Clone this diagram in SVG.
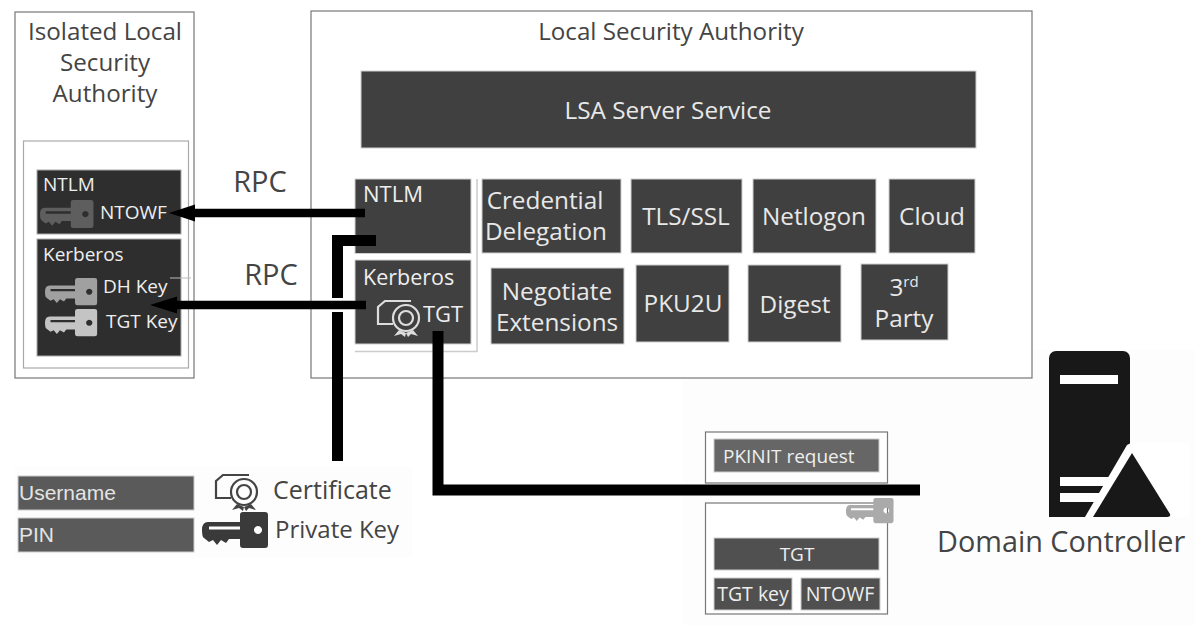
<svg xmlns="http://www.w3.org/2000/svg" xmlns:xlink="http://www.w3.org/1999/xlink" width="1200" height="630" viewBox="0 0 1200 630">
<style>
text{font-family:"Open Sans","Noto Sans","Liberation Sans",sans-serif}
.title{font-size:24.200px;fill:#444;text-anchor:middle}
.lab{font-size:24.300px;fill:#e8e8e8;text-anchor:middle}
.small{font-size:19px;fill:#eee}
.rpc{font-size:29px;fill:#444;text-anchor:middle}
.box{fill:#404040;stroke:#d0d0d0;stroke-width:1}
.dark{fill:#2e2e2e;stroke:#aaa;stroke-width:1}
.frame{fill:#fff;stroke:#777;stroke-width:1.2}
.thick{fill:none;stroke:#000;stroke-width:11}
.rpcline{fill:none;stroke:#000;stroke-width:8.5}
.head{fill:#000}
.cap{font-size:19px;fill:#eee;text-anchor:middle}
.sans{font-family:"Liberation Sans",sans-serif;font-size:21px;fill:#e4e4e4}
</style>
<defs>
<path id="key" fill-rule="evenodd" d="M38 3a3 3 0 0 1 3-3h22a3 3 0 0 1 3 3v30a3 3 0 0 1-3 3h-22a3 3 0 0 1-3-3v-6H27l-3 4-5-3-4 5-4-5-4 2-5-4Q0 25 0 18Q0 10 6 10H38ZM7 14.500H38V17.500H7ZM56 14a4 4 0 1 0 .01 0Z"/>
<g id="cert">
<path fill="none" stroke="currentColor" stroke-width="2.200" d="M35 2H9L2 8V25H17"/>
<circle cx="30" cy="19" r="13" fill="none" stroke="currentColor" stroke-width="2.200"/>
<circle cx="30" cy="19" r="7" fill="none" stroke="currentColor" stroke-width="2.200"/>
<path fill="currentColor" d="M23 31L18 37L25 35L29 38L30 34L32 38L35 35L42 37L37 31L30 34Z"/>
</g>
</defs>
<rect width="1200" height="630" fill="#fff"/>
<rect x="683" y="350" width="512" height="275" fill="#fdfdfd"/>
<rect x="15" y="466" width="397" height="92" fill="#fdfdfd"/>

<g id="isolated-lsa">
<rect class="frame" x="15" y="12" width="179" height="366"/>
<text class="title"><tspan x="105" y="40">Isolated Local</tspan><tspan x="105" y="71">Security</tspan><tspan x="105" y="102">Authority</tspan></text>
<rect x="23.500" y="141" width="165" height="227" fill="#fff" stroke="#aaa" stroke-width="1.200"/>
</g>
<g id="iso-ntlm">
<rect class="dark" x="37" y="170" width="144" height="64"/>
<text class="small" x="43" y="191">NTLM</text>
<use xlink:href="#key" href="#key" transform="translate(40 200) scale(.81 .78)" fill="#5e5e5e"/>
<text class="small" x="100" y="219">NTOWF</text>
</g>
<g id="iso-kerberos">
<rect class="dark" x="37" y="239" width="144" height="117"/>
<text class="small" x="43" y="261">Kerberos</text>
<use xlink:href="#key" href="#key" transform="translate(45 278) scale(.79 .76)" fill="#a0a0a0"/>
<text class="small" x="103" y="293">DH Key</text>
<use xlink:href="#key" href="#key" transform="translate(45 309) scale(.79 .76)" fill="#c4c4c4"/>
<text class="small" x="106" y="328">TGT Key</text>
<line x1="170" y1="278" x2="191" y2="278" stroke="#bbb"/>
</g>

<g id="lsa">
<rect class="frame" x="311" y="11" width="721" height="367" stroke="#555"/>
<text class="title" x="671" y="40">Local Security Authority</text>
</g>
<g id="lsa-server"><rect class="box" x="361" y="71" width="615" height="77"/><text class="lab" x="668" y="119">LSA Server Service</text></g>
<path d="M477 179V351.500H355" fill="none" stroke="#ccc" stroke-width="1.500"/>
<g id="ntlm"><rect class="box" x="355" y="179" width="116" height="74.500"/><text class="small" style="font-size:22px" x="363" y="202">NTLM</text></g>
<g id="kerberos"><rect class="box" x="355" y="260" width="116" height="84"/><text class="small" style="font-size:21.500px" x="363" y="285">Kerberos</text>
<use xlink:href="#cert" href="#cert" transform="translate(376 299)" color="#ddd"/>
<text class="small" style="font-size:22px" x="423" y="322">TGT</text></g>
<g id="credential-delegation"><rect class="box" x="482" y="179" width="139" height="74"/><text class="lab" x="545" y="209">Credential</text><text class="lab" x="546" y="240">Delegation</text></g>
<g id="tls"><rect class="box" x="631" y="179" width="111" height="74"/><text class="lab" x="686" y="225">TLS/SSL</text></g>
<g id="netlogon"><rect class="box" x="753" y="179" width="123" height="74"/><text class="lab" x="814" y="225">Netlogon</text></g>
<g id="cloud"><rect class="box" x="889" y="179" width="86" height="74"/><text class="lab" x="932" y="225">Cloud</text></g>
<g id="negotiate"><rect class="box" x="491" y="268" width="133" height="76"/><text class="lab" x="557" y="300">Negotiate</text><text class="lab" x="557" y="331">Extensions</text></g>
<g id="pku2u"><rect class="box" x="636" y="265" width="93" height="77"/><text class="lab" x="683" y="312">PKU2U</text></g>
<g id="digest"><rect class="box" x="748" y="265" width="93" height="77"/><text class="lab" x="795" y="313">Digest</text></g>
<g id="third-party"><rect class="box" x="861" y="264" width="87" height="76"/><text class="lab" x="904" y="296">3<tspan font-size="15" dy="-9">rd</tspan></text><text class="lab" x="904" y="327">Party</text></g>

<g id="username"><rect x="18" y="476" width="176" height="34" fill="#5a5a5a" stroke="#ccc"/><text class="sans" x="19" y="500">Username</text></g>
<g id="pin"><rect x="18" y="518" width="176" height="34" fill="#5a5a5a" stroke="#ccc"/><text class="sans" x="19" y="542">PIN</text></g>
<g id="certificate"><use xlink:href="#cert" href="#cert" transform="translate(214 473)" color="#444"/><text x="273" y="499" font-size="25" fill="#444">Certificate</text></g>
<g id="private-key"><use xlink:href="#key" href="#key" transform="translate(202 512)" fill="#3a3a3a"/><text x="275" y="538" font-size="24" fill="#444">Private Key</text></g>

<g id="pkinit-request"><rect class="frame" x="705.500" y="432" width="182" height="51"/><rect x="714" y="439" width="165" height="33" fill="#666" stroke="#ccc"/><text x="723" y="463" font-size="19" fill="#eee">PKINIT request</text></g>
<g id="tgt-reply"><rect class="frame" x="705.500" y="503" width="182" height="111"/>
<use xlink:href="#key" href="#key" transform="translate(846 498) scale(.72 .7)" fill="#aaa"/>
<rect x="714" y="538" width="165" height="32" fill="#505050" stroke="#ccc"/><text class="cap" x="797" y="561">TGT</text>
<rect x="714" y="578" width="78" height="32" fill="#505050" stroke="#ccc"/><text class="cap" style="font-size:19.500px" x="753" y="601">TGT key</text>
<rect x="801" y="578" width="79" height="32" fill="#505050" stroke="#ccc"/><text class="cap" style="font-size:19.500px" x="840" y="601">NTOWF</text></g>

<g id="domain-controller">
<path fill="#181818" d="M1049 517V358a7 7 0 0 1 7-7H1123a7 7 0 0 1 7 7V517Z"/>
<rect x="1060" y="375" width="58" height="9" fill="#fff"/>
<rect x="1060" y="477" width="50" height="9" fill="#fff"/>
<rect x="1060" y="493" width="40" height="9" fill="#fff"/>
<path d="M1085 517L1127 445L1131 443H1190V517Z" fill="#fff"/>
<path d="M1132 453L1170 514Q1171 517 1167 517H1093Z" fill="#181818"/>
<text x="937" y="552" font-size="28.800" fill="#444">Domain Controller</text>
</g>

<text id="rpc-1" class="rpc" x="260" y="192">RPC</text>
<text id="rpc-2" class="rpc" x="271" y="285">RPC</text>

<g id="connectors">
<path class="rpcline" d="M365 213H190"/><path class="head" d="M169 213L195 204.500V221.500Z"/>
<path class="rpcline" d="M366 305H172"/><path class="head" d="M150 305L177 296.500V313.500Z"/>
<path class="thick" d="M376 240.500H337.500V298"/>
<path class="thick" d="M337.500 312V461"/>
<path class="thick" d="M438 331V490H920"/>
</g>
</svg>
